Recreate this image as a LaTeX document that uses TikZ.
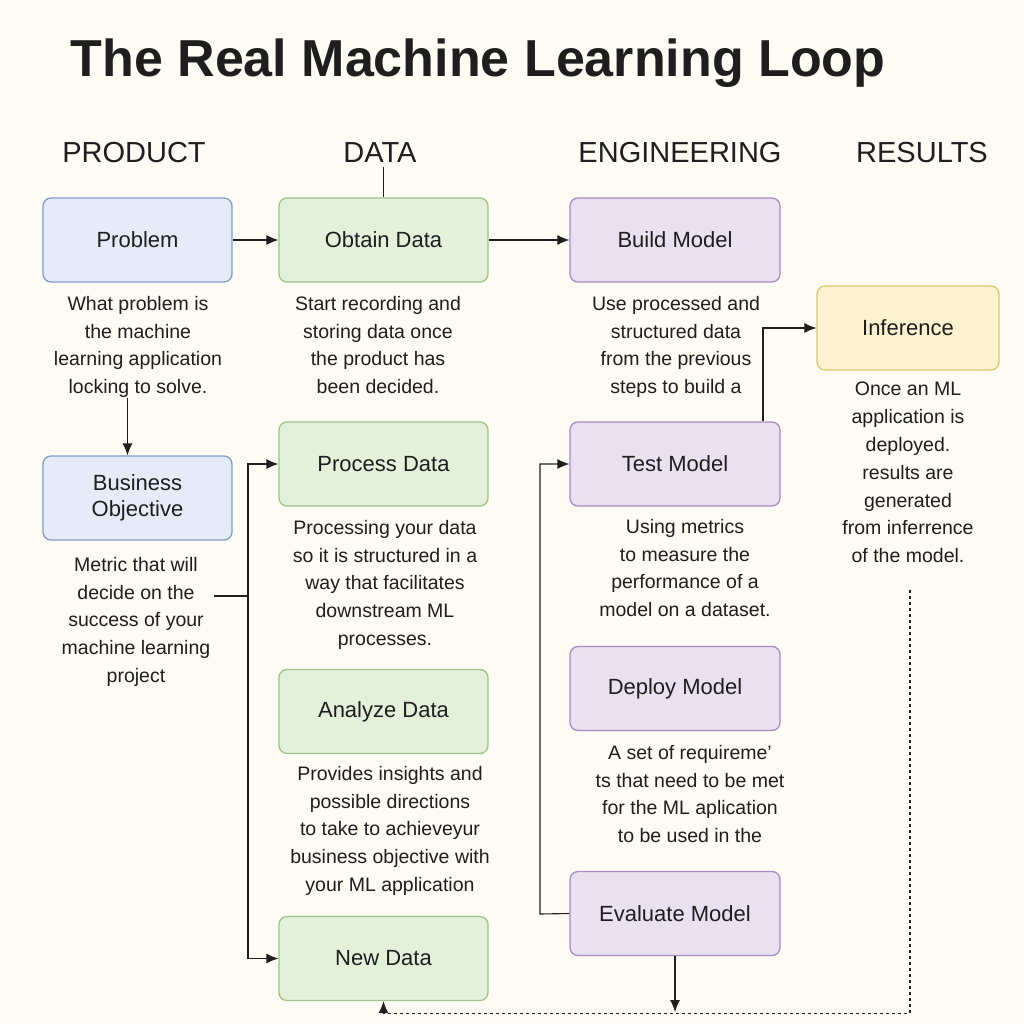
\documentclass[tikz,border=0pt]{standalone}
\usepackage{fontspec}
\setmainfont{Liberation Sans}
\usetikzlibrary{arrows.meta,positioning}
\definecolor{bg}{HTML}{FDFBF4}
\definecolor{prodfill}{HTML}{E6ECF7}\definecolor{proddraw}{HTML}{7F9CCB}
\definecolor{datafill}{HTML}{E3F0DA}\definecolor{datadraw}{HTML}{9CC38A}
\definecolor{engfill}{HTML}{E9E0F0}\definecolor{engdraw}{HTML}{A88BC4}
\definecolor{resfill}{HTML}{FCF2D0}\definecolor{resdraw}{HTML}{E3C46C}
\definecolor{ink}{HTML}{1E1E1E}
\tikzset{
  box/.style={rectangle,rounded corners=8pt,line width=1.3pt,minimum height=84pt,align=center,font=\fontsize{22}{26}\selectfont,text=ink},
  prod/.style={box,fill=prodfill,draw=proddraw,minimum width=189pt},
  data/.style={box,fill=datafill,draw=datadraw,minimum width=209pt},
  eng/.style={box,fill=engfill,draw=engdraw,minimum width=210pt},
  res/.style={box,fill=resfill,draw=resdraw,minimum width=182pt},
  desc/.style={anchor=north,align=center,font=\fontsize{19.5}{27.8}\selectfont,text=ink,inner sep=0pt},
  head/.style={font=\fontsize{29}{32}\selectfont,text=ink},
  conn/.style={line width=1.1pt,draw=ink},
  arr/.style={conn,-{Latex[length=12pt,width=10pt]}}
}
\begin{document}
\begin{tikzpicture}[x=1pt,y=-1pt]
	\fill[bg] (0,0) rectangle (1024,1024);
	\useasboundingbox (0,0) rectangle (1024,1024);
	\node[font=\fontsize{52}{56}\selectfont\bfseries,text=ink] (title) at (478,63) {The Real Machine Learning Loop};
	% column headers
	\node[head] (hprod) at (134,153) {PRODUCT};
	\node[head] (hdata) at (380,153) {DATA};
	\node[head] (heng) at (680,153) {ENGINEERING};
	\node[head] (hres) at (922,153) {RESULTS};
	% boxes
	\node[prod] (problem) at (137.5,240) {Problem};
	\node[prod] (biz) at (137.5,498) {Business\\Objective};
	\node[data] (obtain) at (383.5,240) {Obtain Data};
	\node[data] (process) at (383.5,464) {Process Data};
	\node[data] (analyze) at (383.5,711.5) {Analyze Data};
	\node[data] (newdata) at (383.5,958.5) {New Data};
	\node[eng] (build) at (675,240) {Build Model};
	\node[eng] (test) at (675,464) {Test Model};
	\node[eng] (deploy) at (675,688.5) {Deploy Model};
	\node[eng] (evaluate) at (675,913.5) {Evaluate Model};
	\node[res] (infer) at (908,328) {Inference};
	% descriptions
	\node[desc] (problemt) at (138,296) {What problem is\\the machine\\learning application\\locking to solve.};
	\node[desc] (bizt) at (136,557) {Metric that will\\decide on the\\success of your\\machine learning\\project};
	\node[desc] (obtaint) at (378,296) {Start recording and\\storing data once\\the product has\\been decided.};
	\node[desc] (processt) at (385,520) {Processing your data\\so it is structured in a\\way that facilitates\\downstream ML\\processes.};
	\node[desc] (analyzet) at (390,766) {Provides insights and\\possible directions\\to take to achieveyur\\business objective with\\your ML application};
	\node[desc] (buildt) at (676,296) {Use processed and\\structured data\\from the previous\\steps to build a};
	\node[desc] (testt) at (685,519) {Using metrics\\to measure the\\performance of a\\model on a dataset.};
	\node[desc] (deployt) at (690,745) {A set of requireme’\\ts that need to be met\\for the ML aplication\\to be used in the};
	\node[desc] (infert) at (908,382) {Once an ML\\application is\\deployed.\\results are\\generated\\from inferrence\\of the model.};
	% connectors
	\draw[conn] (hdata.south -| obtain.north) -- (obtain.north);
	\draw[arr] (problem) -- (obtain);
	\draw[arr] (obtain) -- (build);
	\draw[arr] (problemt.south -| biz.north) ++(-10,0) -- ([xshift=-10pt]biz.north);
	\coordinate (split) at (248,596);
	\draw[conn] ([xshift=4pt]bizt.east |- split) -- (split);
	\draw[arr] (split) |- (process.west);
	\draw[arr] (split) |- (newdata.west);
	\coordinate (loopl) at (540,914);
	\draw[arr] (evaluate.west) -- (loopl) |- (test.west);
	\draw[arr] ([xshift=88pt]test.north) |- (infer.west);
	\coordinate (evalend) at (675,1012);
	\draw[arr] (evaluate.south) -- (evalend);
	\coordinate (dashtop) at (910,590);
	\draw[arr,dashed] (dashtop) |- ([yshift=-12pt]newdata.south) -- (newdata.south);
\end{tikzpicture}
\end{document}
